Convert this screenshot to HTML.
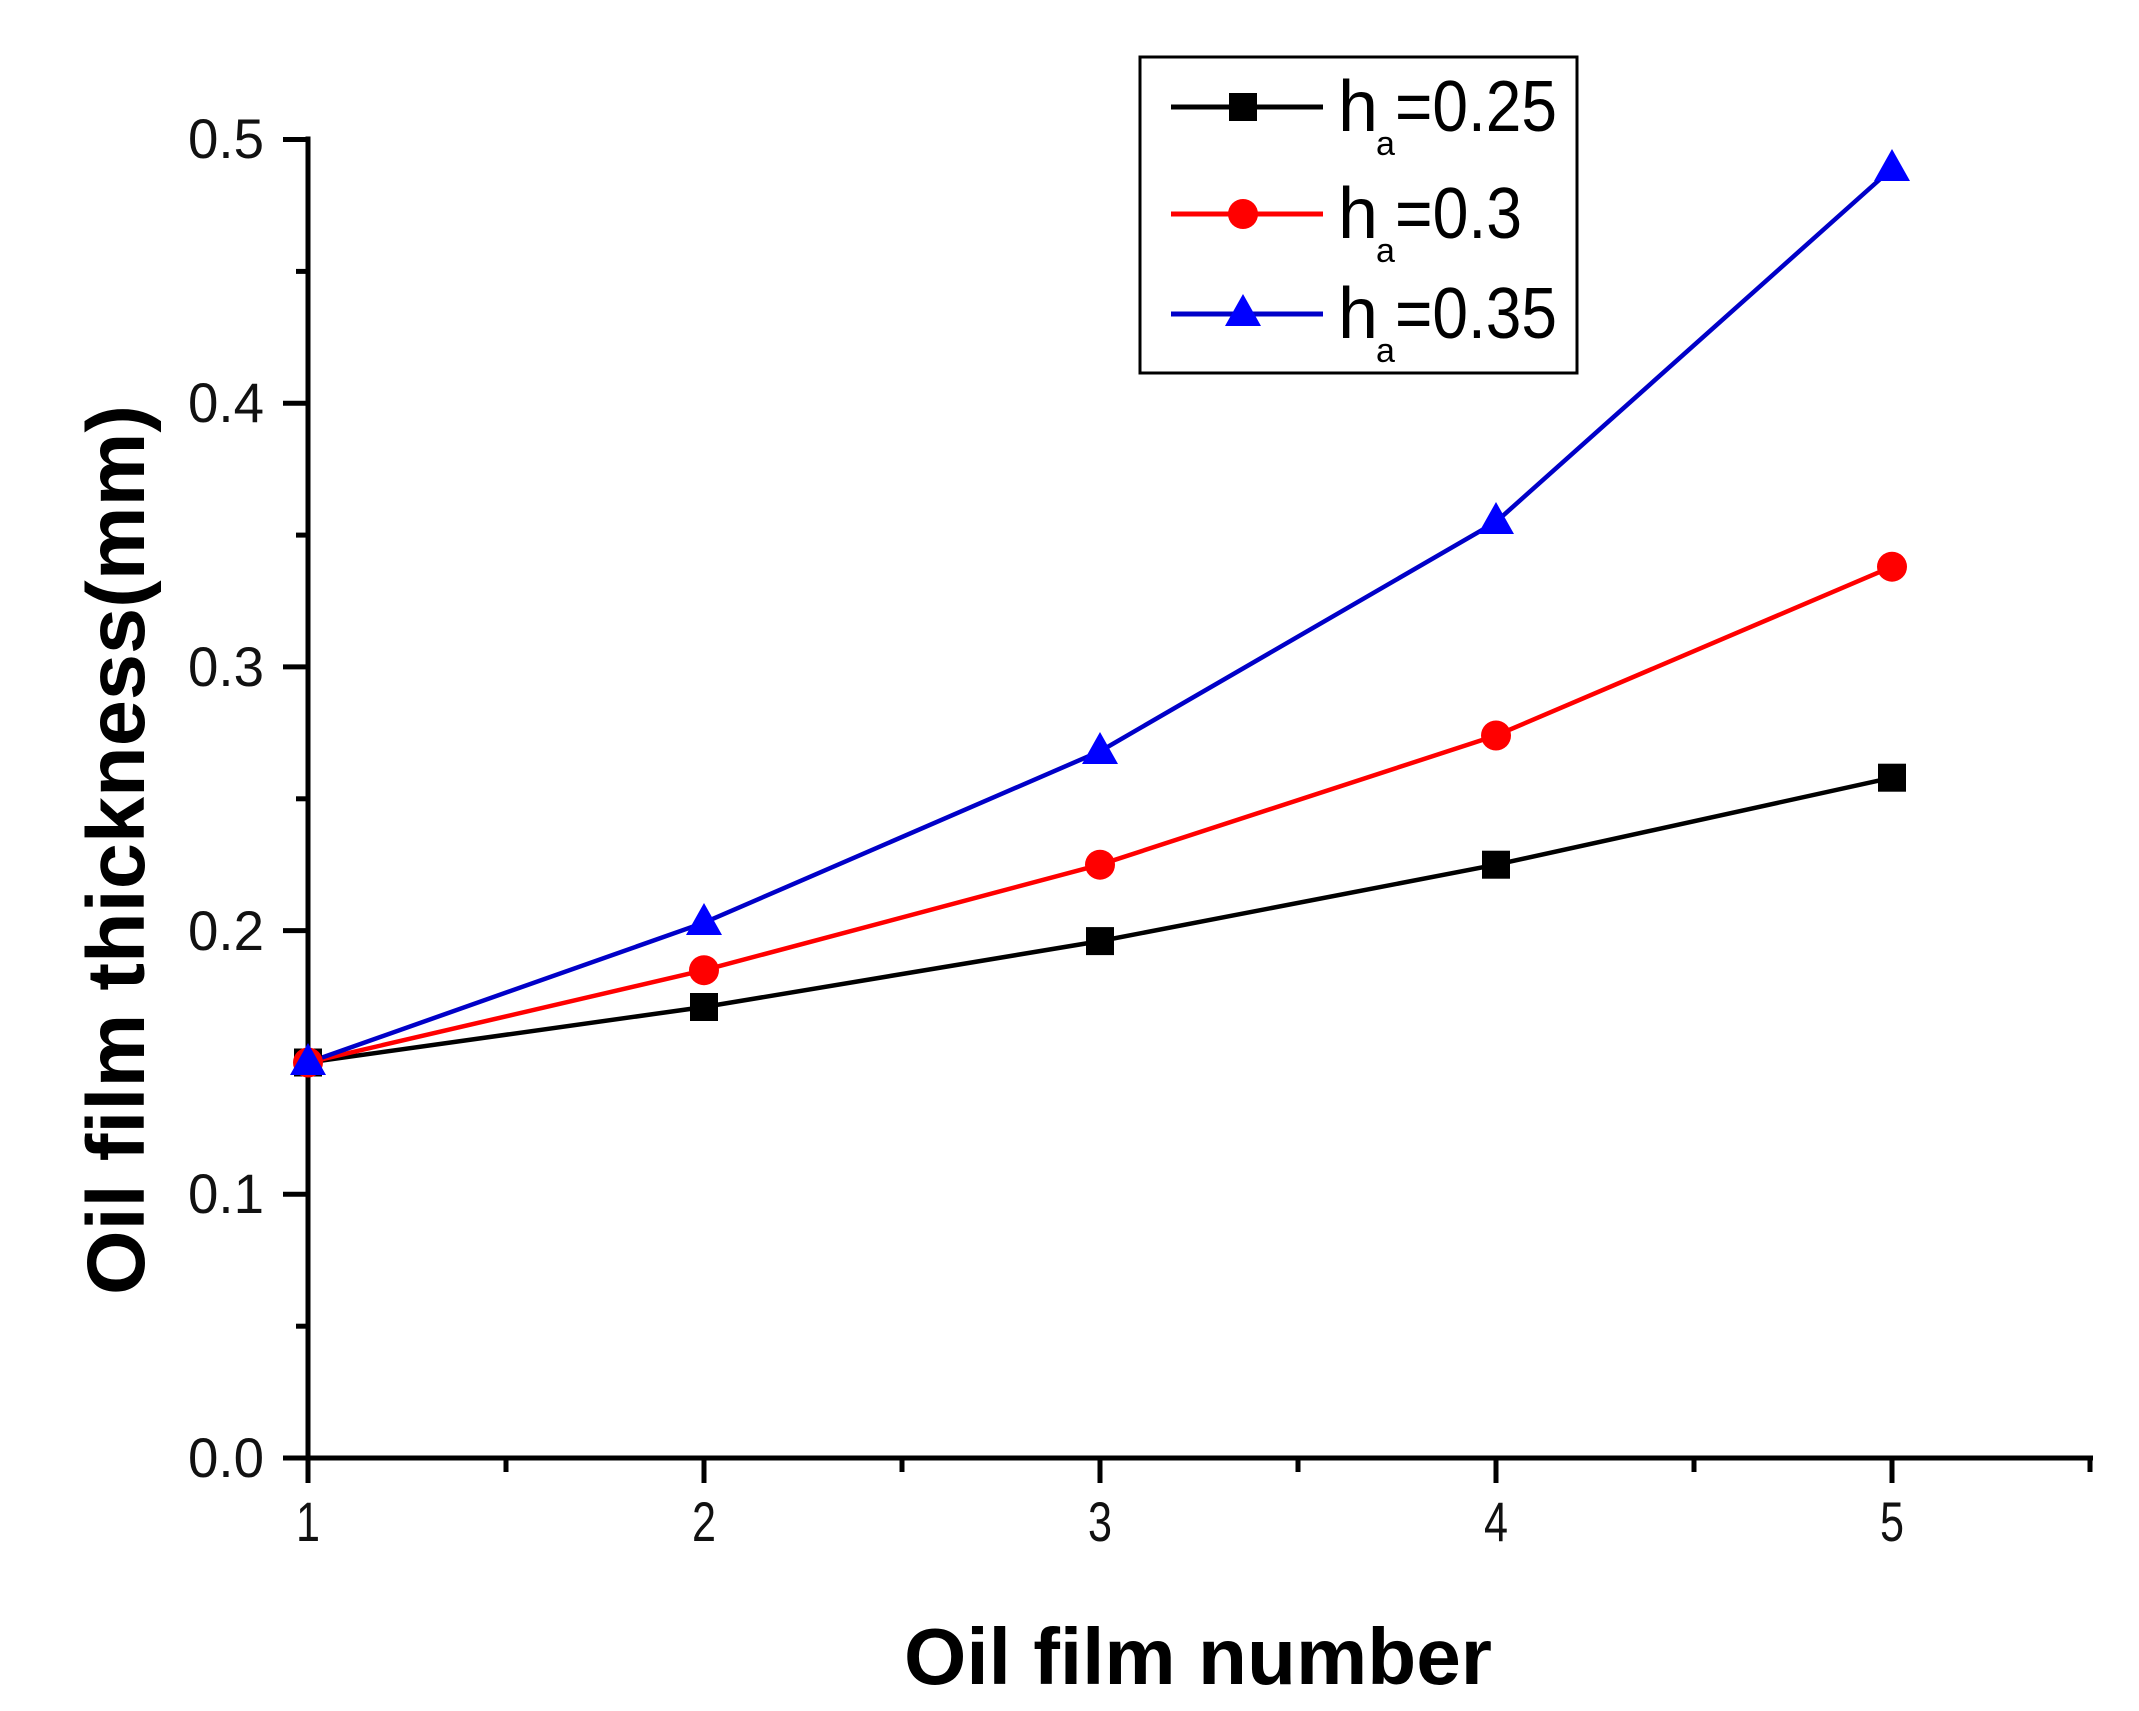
<!DOCTYPE html>
<html><head><meta charset="utf-8"><style>html,body{margin:0;padding:0;background:#fff}</style></head>
<body>
<svg width="2139" height="1706" viewBox="0 0 2139 1706" xmlns="http://www.w3.org/2000/svg">
<rect width="2139" height="1706" fill="#fff"/>
<g stroke="#000" stroke-width="5" fill="none">
<line x1="308" y1="136.5" x2="308" y2="1460"/>
<line x1="306" y1="1458" x2="2093" y2="1458"/>
<line x1="283" y1="1458" x2="308" y2="1458"/>
<line x1="283" y1="1194.3" x2="308" y2="1194.3"/>
<line x1="283" y1="930.6" x2="308" y2="930.6"/>
<line x1="283" y1="666.9" x2="308" y2="666.9"/>
<line x1="283" y1="403.2" x2="308" y2="403.2"/>
<line x1="283" y1="139.5" x2="308" y2="139.5"/>
<line x1="296" y1="1326.2" x2="308" y2="1326.2"/>
<line x1="296" y1="1062.5" x2="308" y2="1062.5"/>
<line x1="296" y1="798.8" x2="308" y2="798.8"/>
<line x1="296" y1="535.1" x2="308" y2="535.1"/>
<line x1="296" y1="271.4" x2="308" y2="271.4"/>
<line x1="308" y1="1458" x2="308" y2="1483"/>
<line x1="704" y1="1458" x2="704" y2="1483"/>
<line x1="1100" y1="1458" x2="1100" y2="1483"/>
<line x1="1496" y1="1458" x2="1496" y2="1483"/>
<line x1="1892" y1="1458" x2="1892" y2="1483"/>
<line x1="506" y1="1458" x2="506" y2="1472"/>
<line x1="902" y1="1458" x2="902" y2="1472"/>
<line x1="1298" y1="1458" x2="1298" y2="1472"/>
<line x1="1694" y1="1458" x2="1694" y2="1472"/>
<line x1="2090" y1="1458" x2="2090" y2="1472"/>
</g>
<g font-family="Liberation Sans, sans-serif" font-size="56" fill="#111">
<text x="188" y="1477" textLength="76" lengthAdjust="spacingAndGlyphs">0.0</text>
<text x="188" y="1213" textLength="76" lengthAdjust="spacingAndGlyphs">0.1</text>
<text x="188" y="950" textLength="76" lengthAdjust="spacingAndGlyphs">0.2</text>
<text x="188" y="686" textLength="76" lengthAdjust="spacingAndGlyphs">0.3</text>
<text x="188" y="422" textLength="76" lengthAdjust="spacingAndGlyphs">0.4</text>
<text x="188" y="158" textLength="76" lengthAdjust="spacingAndGlyphs">0.5</text>
</g>
<g font-family="Liberation Sans, sans-serif" font-size="56" fill="#111">
<text x="296" y="1541" textLength="24" lengthAdjust="spacingAndGlyphs">1</text>
<text x="692" y="1541" textLength="24" lengthAdjust="spacingAndGlyphs">2</text>
<text x="1088" y="1541" textLength="24" lengthAdjust="spacingAndGlyphs">3</text>
<text x="1484" y="1541" textLength="24" lengthAdjust="spacingAndGlyphs">4</text>
<text x="1880" y="1541" textLength="24" lengthAdjust="spacingAndGlyphs">5</text>
</g>
<text x="1198" y="1684" font-family="Liberation Sans, sans-serif" font-weight="bold" font-size="80" text-anchor="middle" fill="#000" textLength="588" lengthAdjust="spacingAndGlyphs">Oil film number</text>
<text transform="translate(144,850) rotate(-90)" font-family="Liberation Sans, sans-serif" font-weight="bold" font-size="82" text-anchor="middle" fill="#000" textLength="890" lengthAdjust="spacingAndGlyphs">Oil film thickness(mm)</text>
<polyline fill="none" stroke="#000" stroke-width="4.5" points="308,1062.5 704,1007 1100,941.1 1496,864.7 1892,777.7"/>
<polyline fill="none" stroke="#f00" stroke-width="4.5" points="308,1062.5 704,970.2 1100,864.7 1496,735.5 1892,566.7"/>
<polyline fill="none" stroke="#0000c8" stroke-width="4.5" points="308,1062.5 704,922.7 1100,751.3 1496,521.9 1892,168.5"/>
<g fill="#000">
<rect x="294" y="1048.5" width="28" height="28"/>
<rect x="690" y="993" width="28" height="28"/>
<rect x="1086" y="927.1" width="28" height="28"/>
<rect x="1482" y="850.7" width="28" height="28"/>
<rect x="1878" y="763.7" width="28" height="28"/>
</g>
<g fill="#f00">
<circle cx="308" cy="1062.5" r="15"/>
<circle cx="704" cy="970.2" r="15"/>
<circle cx="1100" cy="864.7" r="15"/>
<circle cx="1496" cy="735.5" r="15"/>
<circle cx="1892" cy="566.7" r="15"/>
</g>
<g fill="#0000ff">
<polygon points="308,1043 290,1075 326,1075"/>
<polygon points="704,903 686,935 722,935"/>
<polygon points="1100,732 1082,764 1118,764"/>
<polygon points="1496,502 1478,534 1514,534"/>
<polygon points="1892,149 1874,181 1910,181"/>
</g>
<rect x="1140" y="57" width="437" height="316" fill="#fff" stroke="#000" stroke-width="3"/>
<line x1="1171" y1="107" x2="1323" y2="107" stroke="#000" stroke-width="5"/>
<rect x="1229" y="93" width="28" height="28" fill="#000"/>
<line x1="1171" y1="214" x2="1323" y2="214" stroke="#f00" stroke-width="5"/>
<circle cx="1243" cy="214" r="15" fill="#f00"/>
<line x1="1171" y1="314" x2="1323" y2="314" stroke="#0000c8" stroke-width="5"/>
<polygon points="1243,294 1225,326 1261,326" fill="#0000ff"/>
<g font-family="Liberation Sans, sans-serif" font-size="72" fill="#000">
<text x="1338" y="131">h</text><text x="1376" y="155" font-size="34">a</text><text x="1395" y="131" textLength="162" lengthAdjust="spacingAndGlyphs">=0.25</text>
<text x="1338" y="238">h</text><text x="1376" y="262" font-size="34">a</text><text x="1395" y="238" textLength="127" lengthAdjust="spacingAndGlyphs">=0.3</text>
<text x="1338" y="338">h</text><text x="1376" y="362" font-size="34">a</text><text x="1395" y="338" textLength="162" lengthAdjust="spacingAndGlyphs">=0.35</text>
</g>
</svg>
</body></html>
